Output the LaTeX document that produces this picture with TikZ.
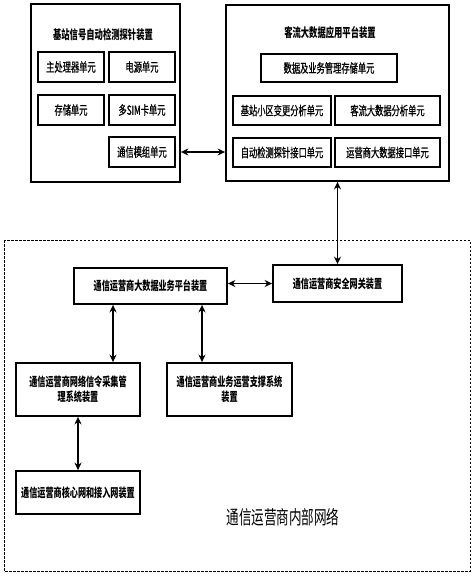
\documentclass[tikz,border=0pt]{standalone}
\usepackage{fontspec}
\usepackage{tikz}
\usetikzlibrary{positioning}
\usetikzlibrary{arrows.meta}
\newfontfamily\cjk[FakeStretch=0.66]{Noto Sans CJK SC}
\newfontfamily\cjkm[FakeStretch=0.66,FakeBold=0.8]{Noto Sans CJK SC}

\begin{document}
\begin{tikzpicture}[
		x=1pt,y=-1pt,
		outer/.style={draw=black,line width=1.8pt,minimum width=#1,inner sep=0pt},
		unit/.style={draw=black,line width=1.2pt,font=\cjkm\fontsize{12.5}{14}\selectfont,inner sep=0pt},
		dev/.style={draw=black,line width=1.8pt,font=\cjk\bfseries\fontsize{12.3}{15}\selectfont,align=center,inner sep=0pt},
		title/.style={font=\cjk\bfseries\fontsize{12.6}{14}\selectfont},
		arr/.style={line width=1.7pt,{Stealth[length=7.5pt,width=7pt]}-{Stealth[length=7.5pt,width=7pt]}}
		]
		\useasboundingbox (0,0) rectangle (474,578);
		
		% Probe device (left)
		\node[outer=149pt,minimum height=178pt] (probe) at (105.5,93) {};
		\node[title] (probet) at (103,35) {基站信号自动检测探针装置};
		\node[unit,minimum width=66pt,minimum height=30pt] (cpu)  at (71,67)   {主处理器单元};
		\node[unit,minimum width=66pt,minimum height=30pt] (pwr)  at (142,67)  {电源单元};
		\node[unit,minimum width=66pt,minimum height=30pt] (mem)  at (71,110)  {存储单元};
		\node[unit,minimum width=66pt,minimum height=30pt] (sim)  at (142,110) {多SIM卡单元};
		\node[unit,minimum width=66pt,minimum height=30pt] (comm) at (142,152) {通信模组单元};
		
		% Passenger flow platform (right)
		\node[outer=223pt,minimum height=176pt] (app) at (337.5,93) {};
		\node[title] (appt) at (330,33) {客流大数据应用平台装置};
		\node[unit,minimum width=136pt,minimum height=28pt] (store) at (329,68)      {数据及业务管理存储单元};
		\node[unit,minimum width=98pt,minimum height=29pt]  (cell)  at (282,110.5)   {基站小区变更分析单元};
		\node[unit,minimum width=105pt,minimum height=29pt] (flow)  at (387.5,110.5) {客流大数据分析单元};
		\node[unit,minimum width=98pt,minimum height=29pt]  (pif)   at (282,152.5)   {自动检测探针接口单元};
		\node[unit,minimum width=105pt,minimum height=29pt] (oif)   at (387.5,152.5) {运营商大数据接口单元};
		
		% Operator internal network
		\draw[line width=0.9pt,dash pattern=on 2.5pt off 1.5pt] (4,240) rectangle (470,571);
		\node[dev,minimum width=153pt,minimum height=36pt] (plat) at (150.5,286)   {通信运营商大数据业务平台装置};
		\node[dev,minimum width=129pt,minimum height=37pt] (gw)   at (337.5,283.5) {通信运营商安全网关装置};
		\node[dev,minimum width=124pt,minimum height=53pt] (sig)  at (78,389.5)    {通信运营商网络信令采集管\\理系统装置};
		\node[dev,minimum width=125pt,minimum height=53pt] (oss)  at (229.5,389.5) {通信运营商业务运营支撑系统\\装置};
		\node[dev,minimum width=124pt,minimum height=43pt] (core) at (78,492.5)    {通信运营商核心网和接入网装置};
		\node[font=\cjk\fontsize{19}{21}\selectfont] (net) at (283,517) {通信运营商内部网络};
		
		% Links
		\draw[arr] (comm -| probe.east) -- (comm -| app.west);
		\draw[arr] (app.south) -- (gw.north);
		\draw[arr] (plat.east |- gw.west) -- (gw.west);
		\draw[arr] ([xshift=35]sig.north) coordinate (s1) -- (s1 |- plat.south);
		\draw[arr] ([xshift=-27.5]oss.north) coordinate (s2) -- (s2 |- plat.south);
		\draw[arr] (sig.south) -- (core.north);
		
	\end{tikzpicture}
\end{document}
